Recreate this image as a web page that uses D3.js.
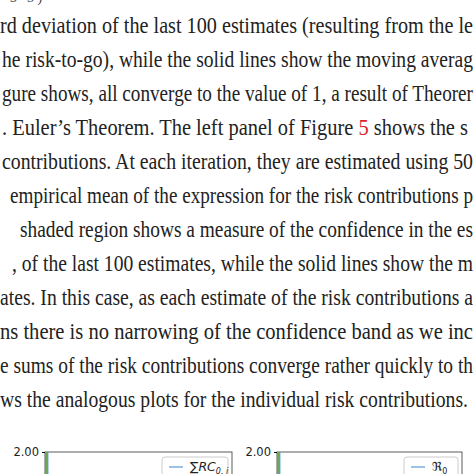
<!DOCTYPE html><html><head><meta charset="utf-8">
<script src="https://cdn.jsdelivr.net/npm/d3@7"></script>
<style>body{margin:0;background:#fff}svg{display:block}</style></head><body>
<script>
const textLines = [
 "rd deviation of the last 100 estimates (resulting from the le",
 "he risk-to-go), while the solid lines show the moving averag",
 "gure shows, all converge to the value of 1, a result of Theorer",
 ". Euler\u2019s Theorem. The left panel of Figure 5 shows the s",
 "contributions. At each iteration, they are estimated using 50",
 "empirical mean of the expression for the risk contributions p",
 "shaded region shows a measure of the confidence in the es",
 ", of the last 100 estimates, while the solid lines show the m",
 "ates. In this case, as each estimate of the risk contributions a",
 "ns there is no narrowing of the confidence band as we inc",
 "e sums of the risk contributions converge rather quickly to th",
 "ws the analogous plots for the individual risk contributions."
];
const lineStart = [0,2,2,2,2,10,20,12,0,0,0,0];
const lineEnd = [473,473,473,468,473,473,473,473,473,473,473,468];
const yTicks = [2.00, 1.75];
const iterations = [0,1,2,3,5,10,20,50,100,200,500];
const sumRC = [2.6,1.3,1.05,1.0,1.0,1.0,1.0,1.0,1.0,1.0,1.0];
const sumRCBand = [3.5,1.5,1.2,1.1,1.05,1.02,1.01,1.0,1.0,1.0,1.0];
const frakR = [2.6,1.2,1.02,1.0,1.0,1.0,1.0,1.0,1.0,1.0,1.0];
const frakRBand = [3.5,1.4,1.1,1.05,1.03,1.02,1.01,1.0,1.0,1.0,1.0];

const W=474,H=474;
const svg=d3.select("body").append("svg").attr("width",W).attr("height",H);
const txt=svg.append("g").attr("font-family","Liberation Serif, DejaVu Serif, serif").attr("font-size",23).attr("fill","#222");
textLines.forEach((t,i)=>{
  const el=txt.append("text").attr("x",lineStart[i]).attr("y",33+34*i)
    .attr("textLength",lineEnd[i]-lineStart[i]).attr("lengthAdjust","spacingAndGlyphs");
  if(t.includes("Figure 5")){
    const [a,b]=t.split("Figure 5");
    el.append("tspan").text(a+"Figure ");
    el.append("tspan").attr("fill","#d62728").text("5");
    el.append("tspan").text(b);
  } else el.text(t);
});
svg.append("text").attr("x",10).attr("y",2).attr("font-family","Liberation Serif").attr("font-size",14).attr("fill","#444").text("3 ′ 5 )");

function panel(x0,x1,series,band,label){
  const x=d3.scaleLinear().domain([0,500]).range([x0,x1]);
  const y=d3.scaleLinear().domain([1.75,2.0]).range([490,452]);
  const g=svg.append("g");
  g.append("rect").attr("x",x0).attr("y",452).attr("width",x1-x0).attr("height",60).attr("fill","none").attr("stroke","#333").attr("stroke-width",0.8);
  const ax=g.append("g").attr("transform",`translate(${x0},0)`).call(d3.axisLeft(y).tickValues(yTicks).tickFormat(d3.format(".2f")).tickSize(3));
  ax.select(".domain").remove();
  ax.selectAll("text").attr("font-family","DejaVu Sans").attr("font-size",11.5).attr("fill","#222");
  const cl="c"+x0;
  g.append("clipPath").attr("id",cl).append("rect").attr("x",x0).attr("y",452).attr("width",x1-x0).attr("height",60);
  const pg=g.append("g").attr("clip-path",`url(#${cl})`);
  pg.append("path").datum(iterations.map((d,i)=>[d,band[i]])).attr("fill","none").attr("stroke","#6aa84f").attr("stroke-width",3)
    .attr("d",d3.line().x(d=>x(d[0])+1).y(d=>y(d[1])));
  pg.append("path").datum(iterations.map((d,i)=>[d,series[i]])).attr("fill","none").attr("stroke","#5b9bd5").attr("stroke-width",1.5)
    .attr("d",d3.line().x(d=>x(d[0])+2.5).y(d=>y(d[1])));
  const lw=label.w;
  g.append("rect").attr("x",x1-4-lw).attr("y",457).attr("width",lw).attr("height",30).attr("rx",3).attr("fill","#fff").attr("stroke","#ccc");
  g.append("line").attr("x1",x1-lw+3).attr("x2",x1-lw+17).attr("y1",467).attr("y2",467).attr("stroke","#5b9bd5").attr("stroke-width",1.2);
  const t=g.append("text").attr("x",x1-lw+24).attr("y",471).attr("font-family","DejaVu Sans").attr("font-size",12.5).attr("fill","#222");
  t.html(label.html);
}
panel(45,232,sumRC,sumRCBand,{w:66,html:'∑<tspan font-style="italic">RC</tspan><tspan font-size="8" dy="3" font-style="italic">0, i</tspan>'});
panel(277,462,frakR,frakRBand,{w:54,html:'ℜ<tspan font-size="8" dy="3">0</tspan>'});
</script></body></html>
